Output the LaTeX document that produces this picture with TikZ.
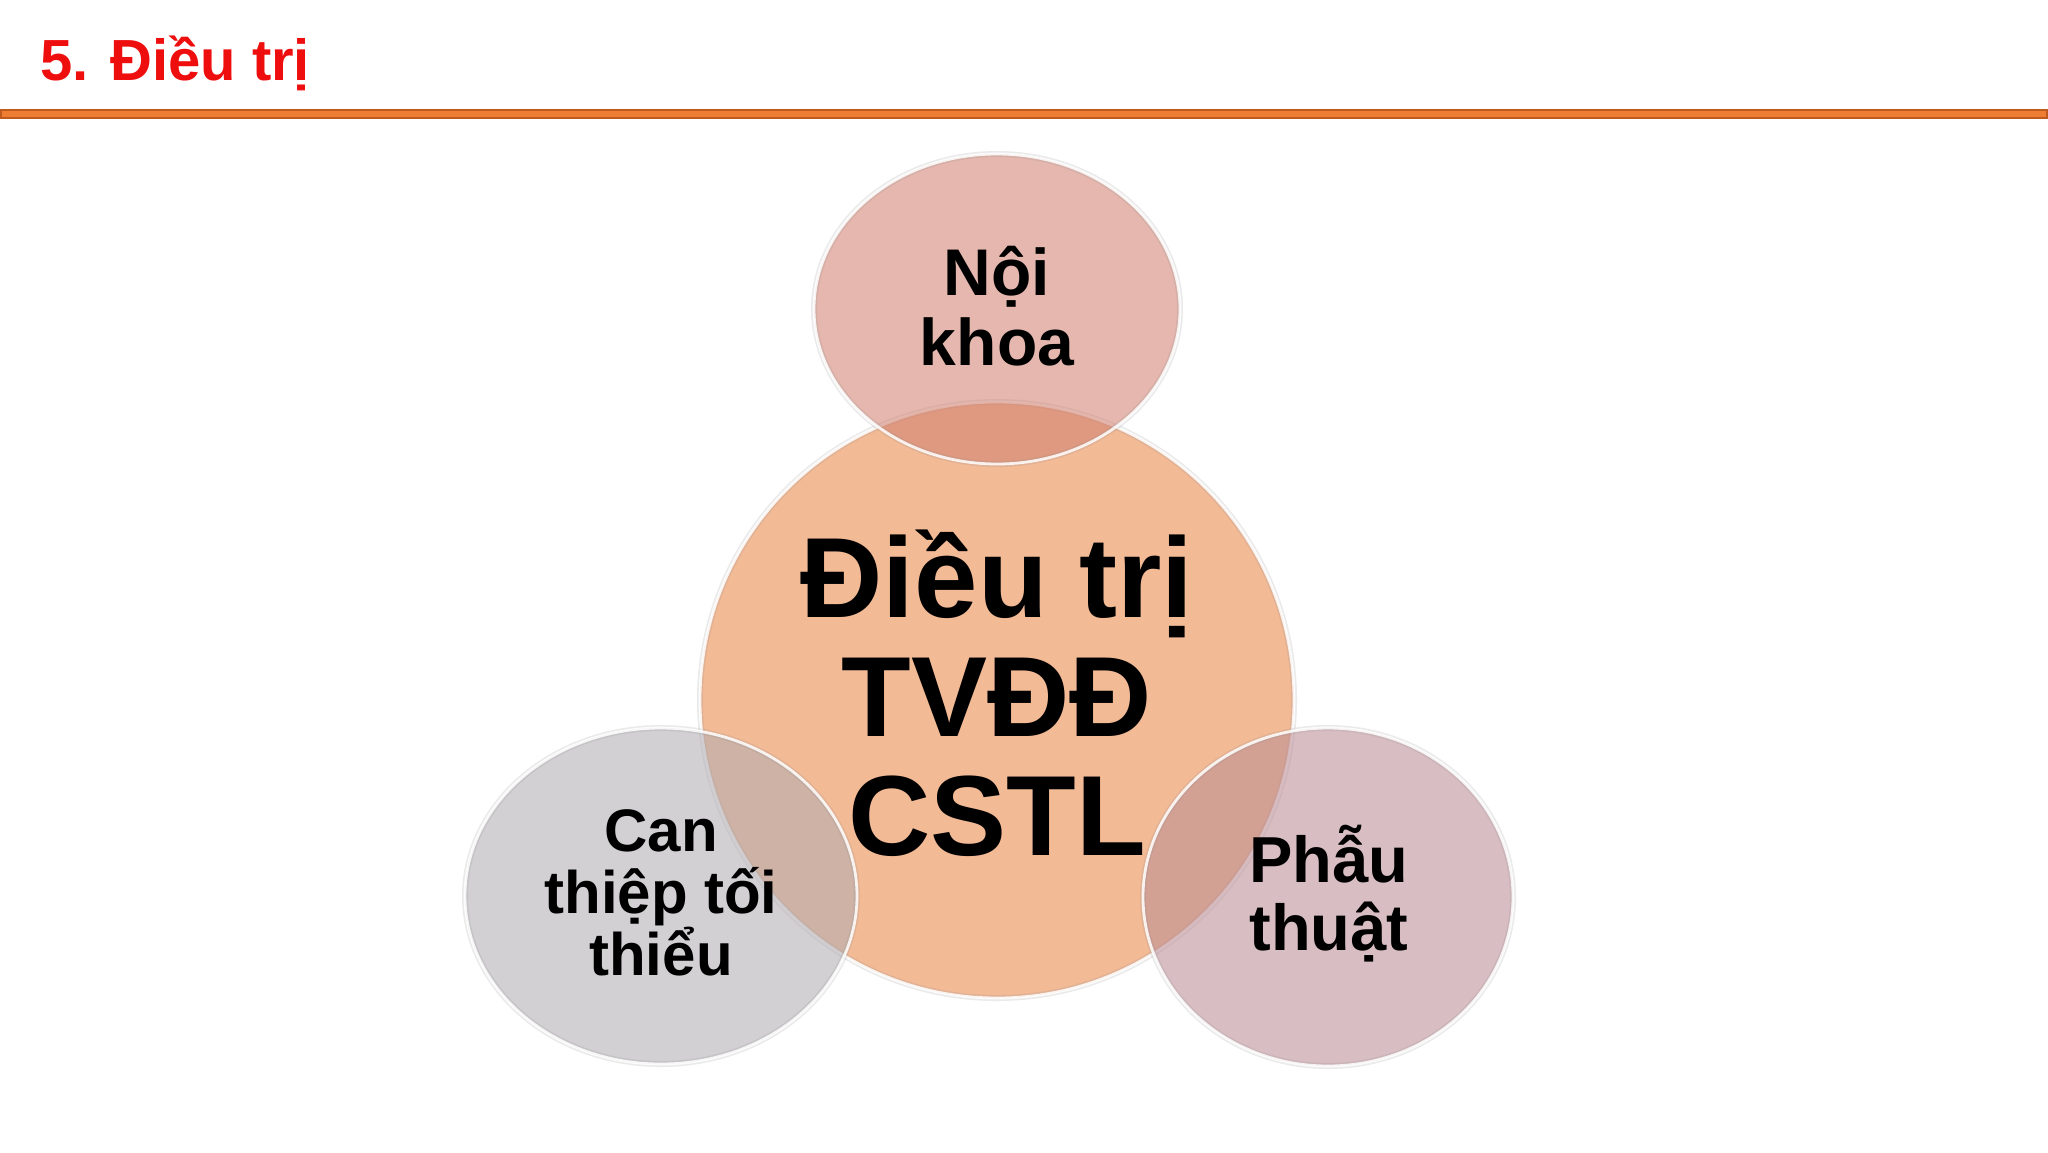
\documentclass[tikz,border=0pt]{standalone}
\usepackage{fontspec}
\setmainfont{Liberation Sans}
\usetikzlibrary{shapes.geometric}
\definecolor{titlered}{RGB}{238,14,14}
\definecolor{barorange}{RGB}{237,125,49}
\definecolor{bardark}{RGB}{190,90,30}
\definecolor{centerfill}{RGB}{243,186,150}
\definecolor{topfill}{RGB}{209,128,112}
\definecolor{grayfill}{RGB}{176,172,178}
\definecolor{mauvefill}{RGB}{186,140,148}
\begin{document}
\begin{tikzpicture}[x=0.5pt,y=-0.5pt,
  bubble/.style={ellipse, inner sep=0pt, draw=black!45, line width=3pt, draw opacity=0.18,
    postaction={draw=white, line width=1.4pt, draw opacity=0.85}},
  satellite/.style={bubble, fill opacity=0.56},
  lbl/.style={align=center, text=black, font=\bfseries},
]
\useasboundingbox (0,0) rectangle (2048,1152);
\fill[white] (0,0) rectangle (2048,1152);

% title and bar
\node[anchor=base west, inner sep=0pt, text=titlered, font=\fontsize{29}{35}\selectfont\bfseries] (title) at (40,80) {5. Điều trị};
\draw[bardark, fill=barorange, line width=0.6pt] (1,110) rectangle (2047,118);

% central circle
\node[bubble, fill=centerfill, minimum width=297pt, minimum height=298pt] (center) at (997,700) {};

% satellites
\node[satellite, fill=topfill, minimum width=183pt, minimum height=155pt] (top) at (997,309) {};
\node[satellite, fill=grayfill, minimum width=196pt, minimum height=168pt] (left) at (661,896) {};
\node[satellite, fill=mauvefill, minimum width=185pt, minimum height=169pt] (right) at (1328,897) {};

% labels
\node[lbl, font=\fontsize{57}{59.5}\selectfont\bfseries] (centertext) at (997,693) {Điều trị\\TVĐĐ\\CSTL};
\node[lbl, font=\fontsize{33}{35}\selectfont\bfseries] (toptext) at (997,306) {Nội\\khoa};
\node[lbl, font=\fontsize{30}{31}\selectfont\bfseries] (lefttext) at (661,893) {Can\\thiệp tối\\thiểu};
\node[lbl, font=\fontsize{32.5}{34}\selectfont\bfseries] (righttext) at (1329,894) {Phẫu\\thuật};
\end{tikzpicture}
\end{document}
